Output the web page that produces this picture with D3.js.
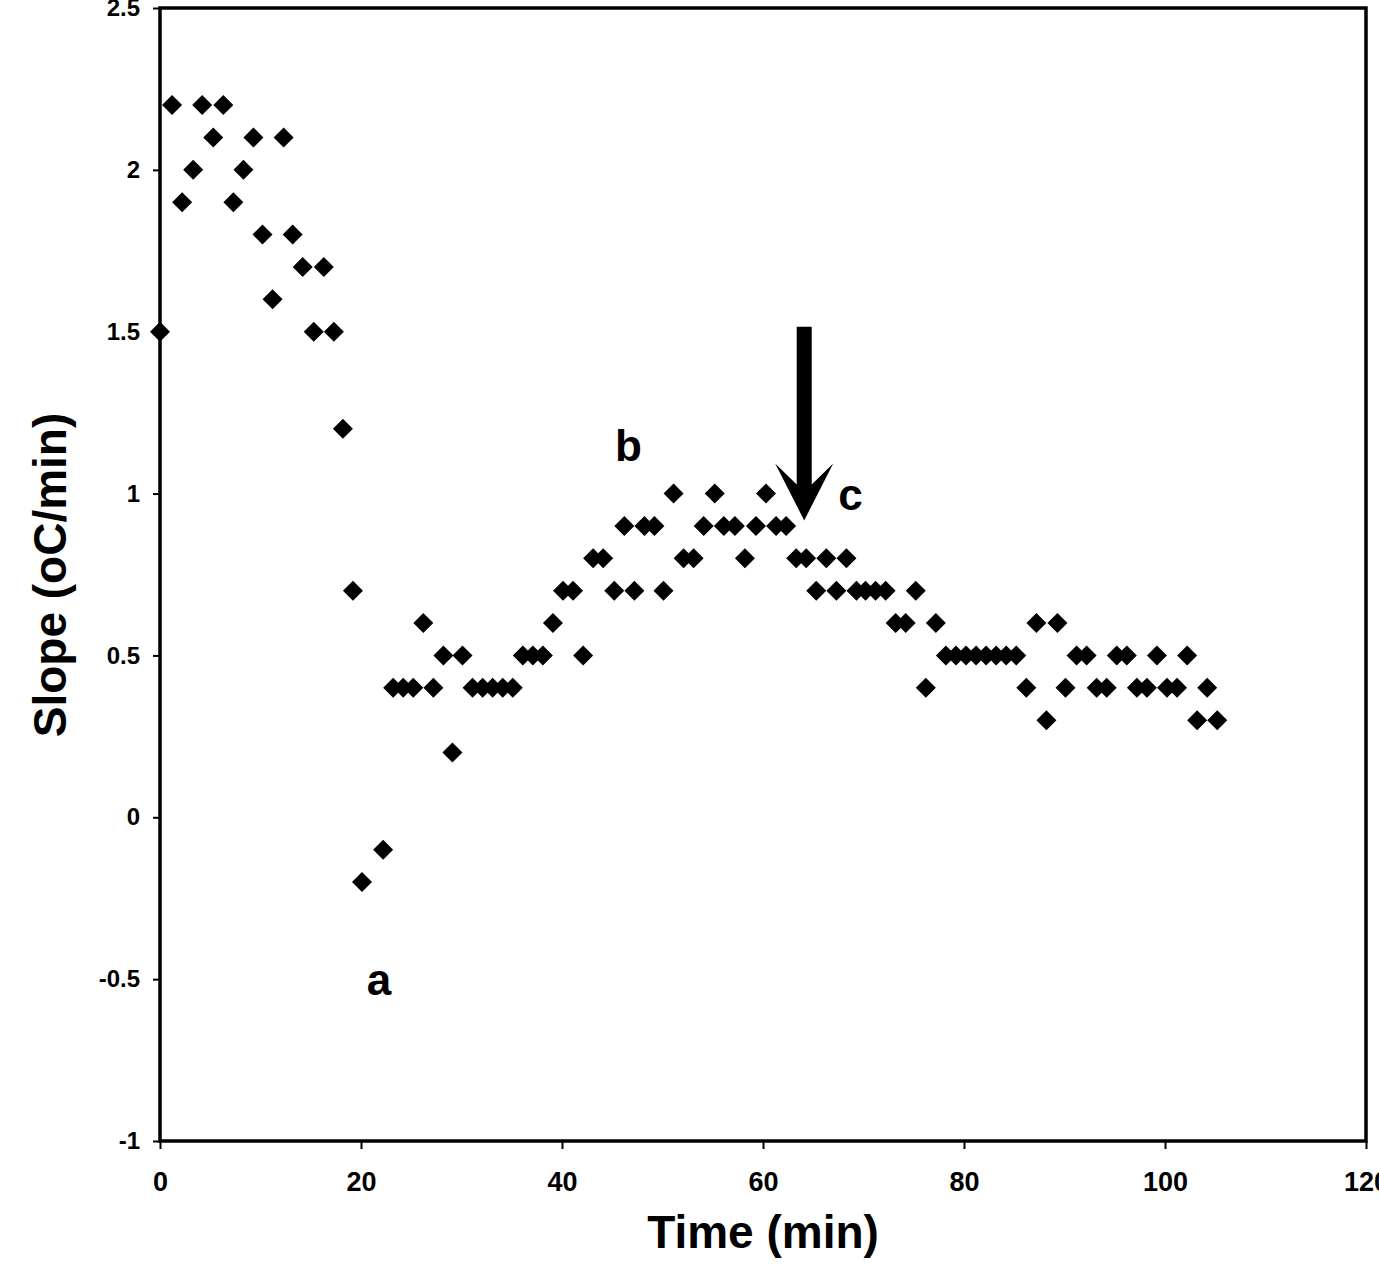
<!DOCTYPE html>
<html>
<head>
<meta charset="utf-8">
<script src="https://cdn.jsdelivr.net/npm/d3@7"></script>
<style>
  body { margin: 0; background: #fff; }
  text { font-family: "Liberation Sans", Arial, sans-serif; font-weight: bold; }
</style>
</head>
<body>
<div id="chart"></div>
<script>
// data
var times = [0, 1.2, 2.2, 3.3, 4.2, 5.3, 6.3, 7.3, 8.3, 9.3, 10.2, 11.2, 12.3, 13.2, 14.2, 15.3, 16.3, 17.3, 18.2, 19.2,
    20.1, 22.2, 23.2, 24.2, 25.2, 26.2, 27.2, 28.2, 29.1, 30.1, 31.1, 32.1, 33.1, 34.1, 35.1, 36.1, 37.1, 38.1, 39.1,
    40.1, 41.1, 42.1, 43.1, 44.1, 45.2, 46.2, 47.2, 48.2, 49.2, 50.1, 51.1, 52.1, 53.1, 54.1, 55.2, 56.1, 57.2, 58.2, 59.3,
    60.3, 61.3, 62.3, 63.3, 64.3, 65.3, 66.3, 67.3, 68.3, 69.3, 70.2, 71.2, 72.2, 73.2, 74.2, 75.2, 76.2, 77.2, 78.2, 79.2,
    80.2, 81.2, 82.2, 83.2, 84.2, 85.2, 86.2, 87.2, 88.2, 89.3, 90.1, 91.2, 92.2, 93.2, 94.2, 95.2, 96.2, 97.2, 98.2, 99.2,
    100.2, 101.2, 102.2, 103.2, 104.2, 105.2];
var slopes = [1.5, 2.2, 1.9, 2.0, 2.2, 2.1, 2.2, 1.9, 2.0, 2.1, 1.8, 1.6, 2.1, 1.8, 1.7, 1.5, 1.7, 1.5, 1.2, 0.7,
    -0.2, -0.1, 0.4, 0.4, 0.4, 0.6, 0.4, 0.5, 0.2, 0.5, 0.4, 0.4, 0.4, 0.4, 0.4, 0.5, 0.5, 0.5, 0.6,
    0.7, 0.7, 0.5, 0.8, 0.8, 0.7, 0.9, 0.7, 0.9, 0.9, 0.7, 1.0, 0.8, 0.8, 0.9, 1.0, 0.9, 0.9, 0.8, 0.9,
    1.0, 0.9, 0.9, 0.8, 0.8, 0.7, 0.8, 0.7, 0.8, 0.7, 0.7, 0.7, 0.7, 0.6, 0.6, 0.7, 0.4, 0.6, 0.5, 0.5,
    0.5, 0.5, 0.5, 0.5, 0.5, 0.5, 0.4, 0.6, 0.3, 0.6, 0.4, 0.5, 0.5, 0.4, 0.4, 0.5, 0.5, 0.4, 0.4, 0.5,
    0.4, 0.4, 0.5, 0.3, 0.4, 0.3];
var xTicks = [0, 20, 40, 60, 80, 100, 120];
var yTicks = [-1, -0.5, 0, 0.5, 1, 1.5, 2, 2.5];
var yTickLabels = ["-1", "-0.5", "0", "0.5", "1", "1.5", "2", "2.5"];
var labels = [
    {text: "a", x: 21.8, y: -0.55},
    {text: "b", x: 46.6, y: 1.10},
    {text: "c", x: 68.7, y: 0.95}
];
// arrow: time, top slope, tip slope
var arrowAt = {x: 64.1, top: 1.515, tip: 0.917};

var svgWidth = 1379;
var svgHeight = 1277;
var margin = {top: 8, right: 13, bottom: 136, left: 160};
var width = svgWidth - margin.left - margin.right;
var height = svgHeight - margin.top - margin.bottom;

var svg = d3.select("#chart")
    .append("svg")
    .attr("width", svgWidth)
    .attr("height", svgHeight);

var chartGroup = svg.append("g")
    .attr("transform", `translate(${margin.left}, ${margin.top})`);

var xScale = d3.scaleLinear().domain([0, 120]).range([0, width]);
var yScale = d3.scaleLinear().domain([-1, 2.5]).range([height, 0]);

var bottomAxis = d3.axisBottom(xScale).tickValues(xTicks).tickFormat(d => String(d))
    .tickSize(8).tickSizeOuter(0).tickPadding(23);
var leftAxis = d3.axisLeft(yScale).tickValues(yTicks).tickFormat((d, i) => yTickLabels[i])
    .tickSize(7).tickSizeOuter(0).tickPadding(13);

var xg = chartGroup.append("g")
    .attr("transform", `translate(0, ${height})`)
    .call(bottomAxis);
var yg = chartGroup.append("g").call(leftAxis);

[xg, yg].forEach(function(g) {
    g.select(".domain").remove();
    g.selectAll(".tick line").attr("stroke", "#000").attr("stroke-width", 2);
    g.selectAll(".tick text").attr("fill", "#000").style("font-family", "'Liberation Sans', Arial, sans-serif").style("font-weight", "bold");
});
xg.selectAll(".tick text").style("font-size", "27px");
yg.selectAll(".tick text").style("font-size", "24px");

// frame
chartGroup.append("rect")
    .attr("x", 0).attr("y", 0)
    .attr("width", width).attr("height", height)
    .attr("fill", "none")
    .attr("stroke", "#000")
    .attr("stroke-width", 3.5);

// points
var pts = times.map(function(t, i) { return {t: t, s: slopes[i]}; });
chartGroup.selectAll("path.pt")
    .data(pts)
    .enter()
    .append("path")
    .attr("class", "pt")
    .attr("d", d3.symbol().type(d3.symbolSquare).size(200))
    .attr("transform", d => `translate(${xScale(d.t)}, ${yScale(d.s)}) rotate(45)`)
    .attr("fill", "#000");

// arrow
var ax = xScale(arrowAt.x), aTop = yScale(arrowAt.top), aTip = yScale(arrowAt.tip);
var arrowPts = [
    [ax - 7.5, aTop], [ax + 7.5, aTop], [ax + 7.5, aTip - 36],
    [ax + 29, aTip - 57], [ax, aTip], [ax - 29, aTip - 57], [ax - 7.5, aTip - 36]
];
chartGroup.append("path")
    .attr("d", d3.line()(arrowPts) + "Z")
    .attr("fill", "#000");

// letters
chartGroup.selectAll("text.lbl")
    .data(labels)
    .enter()
    .append("text")
    .attr("class", "lbl")
    .attr("x", d => xScale(d.x))
    .attr("y", d => yScale(d.y))
    .attr("text-anchor", "middle")
    .style("font-size", "44px")
    .text(d => d.text);

// axis labels
svg.append("text")
    .attr("x", margin.left + width / 2)
    .attr("y", 1248)
    .attr("text-anchor", "middle")
    .style("font-size", "46px")
    .text("Time (min)");

svg.append("text")
    .attr("transform", "translate(66, 575) rotate(-90)")
    .attr("text-anchor", "middle")
    .style("font-size", "46px")
    .text("Slope (oC/min)");
</script>
</body>
</html>
